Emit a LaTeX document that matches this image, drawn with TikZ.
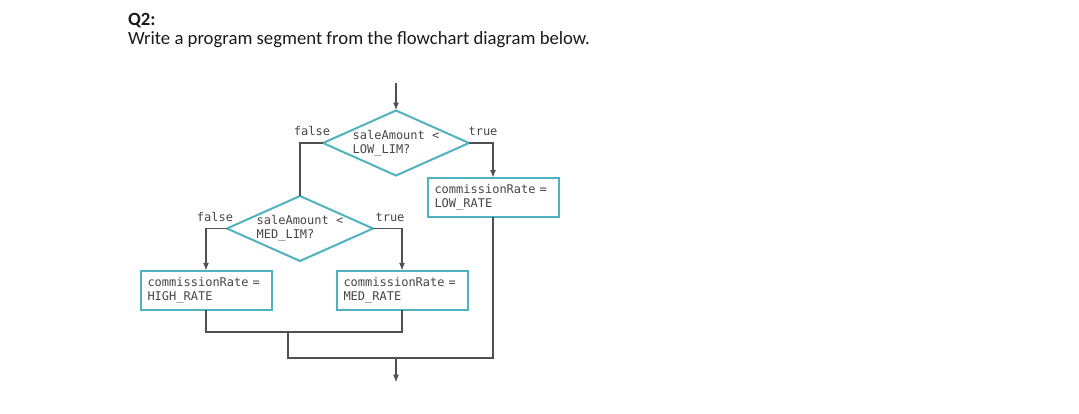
\documentclass[tikz,border=0pt]{standalone}
\usepackage{fontspec}
\setmainfont{Carlito}
\newfontfamily\chartfont{DejaVu Sans Mono}
\newcommand*{\chartsize}{\chartfont\fontsize{12}{13.7}\selectfont}
\definecolor{edge}{RGB}{80,178,190}
\definecolor{wire}{RGB}{80,80,80}
\definecolor{ink}{RGB}{70,70,70}
\definecolor{heading}{RGB}{25,25,25}
\usetikzlibrary{arrows.meta}
\usetikzlibrary{positioning}
\usetikzlibrary{shapes.geometric}
\tikzstyle{base}=[x=1pt, y=-1pt, inner sep=0pt, outer sep=0pt]
\tikzstyle{decision}=[diamond, draw=edge, line width=2pt, aspect=2.25, minimum width=146pt, minimum height=65pt, text=ink, font=\chartsize, align=left]
\tikzstyle{process}=[rectangle, draw=edge, line width=2pt, minimum width=131pt, minimum height=39pt, text width=117pt, inner xsep=7pt, text=ink, font=\chartsize, align=left]
\tikzstyle{branch}=[anchor=base, text=ink, font=\chartsize]
\tikzstyle{flow}=[draw=wire, line width=1.7pt]
\tikzstyle{arrowflow}=[flow, -{Latex[length=8pt,width=6pt]}]

\begin{document}
\begin{tikzpicture}[base]
    \path [use as bounding box] (0,0) rectangle (1079,413);
    % heading
    \node [anchor=base west, text=heading, font=\fontsize{18.7}{22}\selectfont\bfseries] (qnum) at (128,25) {Q2:};
    \node [anchor=base west, text=heading, font=\fontsize{18.7}{22}\selectfont] (task) at (128,44) {Write a program segment from the flowchart diagram below.};
    % decisions and boxes
    \node [decision] (lowlim) at (396,143) {saleAmount <\\LOW\_LIM?};
    \node [decision] (medlim) at (300,228.5) {saleAmount <\\MED\_LIM?};
    \node [process] (lowrate) at (493,197.5) {commissionRate =\\LOW\_RATE};
    \node [process] (highrate) at (206,290.4) {commissionRate =\\HIGH\_RATE};
    \node [process] (medrate) at (402,290.4) {commissionRate =\\MED\_RATE};
    % branch labels
    \node [branch] (lowfalse) at (312,135) {false};
    \node [branch] (lowtrue) at (483,135) {true};
    \node [branch] (medfalse) at (215,221) {false};
    \node [branch] (medtrue) at (390,221) {true};
    % connectors
    \coordinate (entry) at (396,83);
    \coordinate (joinA) at (288.3,332.3);
    \coordinate (joinB) at (396,358.3);
    \coordinate (exit) at (396,382.7);
    \draw [arrowflow] (entry) -- (lowlim.north);
    \draw [arrowflow] (lowlim.east) -| (lowrate.north);
    \draw [flow] (lowlim.west) -| (medlim.north);
    \draw [arrowflow] (medlim.west) -| (highrate.north);
    \draw [arrowflow] (medlim.east) -| (medrate.north);
    \draw [flow] (highrate.south) |- (joinA) -| (medrate.south);
    \draw [flow] (joinA) |- (joinB) -| (lowrate.south);
    \draw [arrowflow] (joinB) -- (exit);
\end{tikzpicture}
\end{document}
